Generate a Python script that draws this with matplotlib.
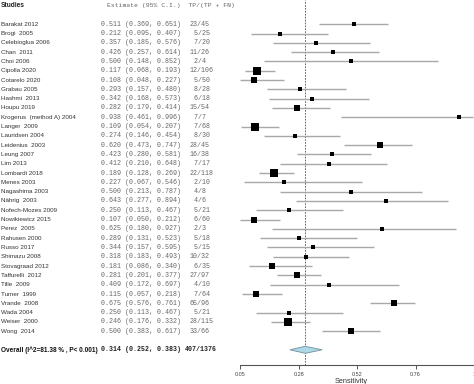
import matplotlib
matplotlib.use("Agg")
import matplotlib.pyplot as plt
from matplotlib.transforms import blended_transform_factory
from matplotlib.patches import Polygon

studies = ["Barakat 2012", "Brogi  2005", "Celebioglua 2006", "Chan  2011", "Choi 2006",
           "Cipolla 2020", "Cotarelo 2020", "Grabau 2005", "Hashmi  2013", "Houpu 2019",
           "Krogerus  (method A) 2004", "Langer  2009", "Lauridsen 2004", "Leidenius  2003",
           "Leung 2007", "Lim 2013", "Lombardi 2018", "Menes 2003", "Nagashima 2003",
           "Nährig  2003", "Nofech-Mozes 2009", "Nowikiewicz 2015", "Perez  2005",
           "Rahusen 2000", "Russo 2017", "Shimazu 2008", "Stovagraad 2012", "Taffurelli  2012",
           "Tille  2009", "Turner  1999", "Vrande  2008", "Wada 2004", "Weiser  2000", "Wong  2014"]
est = [0.511, 0.212, 0.357, 0.426, 0.500, 0.117, 0.108, 0.293, 0.342, 0.282, 0.938, 0.109,
       0.274, 0.620, 0.423, 0.412, 0.189, 0.227, 0.500, 0.643, 0.250, 0.107, 0.625, 0.289,
       0.344, 0.318, 0.181, 0.281, 0.409, 0.115, 0.675, 0.250, 0.246, 0.500]
lo = [0.369, 0.095, 0.185, 0.257, 0.148, 0.068, 0.048, 0.157, 0.168, 0.179, 0.461, 0.054,
      0.146, 0.473, 0.280, 0.210, 0.128, 0.067, 0.213, 0.277, 0.113, 0.050, 0.180, 0.131,
      0.157, 0.183, 0.086, 0.201, 0.172, 0.057, 0.576, 0.113, 0.176, 0.383]
hi = [0.651, 0.407, 0.576, 0.614, 0.852, 0.193, 0.227, 0.480, 0.573, 0.414, 0.996, 0.207,
      0.454, 0.747, 0.581, 0.648, 0.269, 0.546, 0.787, 0.894, 0.467, 0.212, 0.927, 0.523,
      0.595, 0.493, 0.340, 0.377, 0.697, 0.218, 0.761, 0.467, 0.332, 0.617]
tp = [23, 5, 7, 11, 2, 12, 5, 8, 6, 15, 7, 7, 8, 28, 16, 7, 22, 2, 4, 4, 5, 6, 2, 5, 5, 10, 6,
      27, 4, 7, 65, 5, 28, 33]
positives = [45, 25, 20, 26, 4, 106, 50, 28, 18, 54, 7, 68, 30, 45, 38, 17, 118, 10, 8, 6, 21,
             60, 3, 18, 15, 32, 35, 97, 10, 64, 96, 21, 115, 66]
# relative study weights
weights = [25, 22, 18.5, 22, 11, 64, 45, 22, 18.5, 32, 13.5, 53, 22, 28, 25, 18.5, 53, 16,
           13.5, 11, 22, 45, 11, 18.5, 18.5, 25, 28, 45, 13.5, 45, 45, 18.5, 53, 32]

overall_label = "Overall (I^2=81.38 % , P< 0.001)"
overall_est, overall_lo, overall_hi = 0.314, 0.252, 0.383
overall_tp, overall_pos = 407, 1376

xticks = [0.05, 0.2875, 0.525, 0.7625, 1.0]
xticklabels = ["0.05", "0.28", "0.52", "0.76", "1"]

W, H = 474, 384
fig = plt.figure(figsize=(W / 100, H / 100), dpi=100)
x0_px, unit_px = 227.9, 246.4
row0_px, step_px = 24.3, 9.3
axis_px = 365
ax = fig.add_axes([x0_px / W, (H - axis_px) / H, (W - x0_px) / W, axis_px / H])
ax.set_xlim(0, (W - x0_px) / unit_px)
ax.set_ylim((axis_px - row0_px) / step_px, -row0_px / step_px)
for s in ["top", "right", "left"]:
    ax.spines[s].set_visible(False)
ax.spines["bottom"].set_bounds(0.05, 1.0)
ax.spines["bottom"].set_color("#555555")
ax.spines["bottom"].set_linewidth(0.8)
ax.set_yticks([])
ax.set_xticks(xticks)
ax.set_xticklabels(xticklabels, fontsize=4.0, color="#444444", family="Liberation Sans")
ax.tick_params(axis="x", length=3, width=0.7, color="#555555", pad=2)
ax.set_xlabel("Sensitivity", fontsize=5.3, family="Liberation Sans", labelpad=0.5, color="#333333")

n = len(studies)
rows = list(range(n))
overall_row = n + 1

ax.axvline(overall_est, color="red", linestyle=(0, (2, 1.5)), linewidth=0.6, zorder=1)

for i in rows:
    ax.plot([lo[i], hi[i]], [i, i], color="#a8a8a8", linewidth=1.0, zorder=2, clip_on=False,
            solid_capstyle="butt")
    ax.plot(est[i], i, marker="s", color="black", markersize=weights[i] ** 0.5 * 0.72,
            markeredgewidth=0, zorder=3, clip_on=False)

diamond = Polygon([[overall_lo, overall_row], [overall_est, overall_row - 0.38],
                   [overall_hi, overall_row], [overall_est, overall_row + 0.38]],
                  closed=True, facecolor="#add8e6", edgecolor="#7090a0", linewidth=0.6, zorder=3)
ax.add_patch(diamond)

tr = blended_transform_factory(fig.transFigure, ax.transData)
name_x, est_x, ratio_x = 1 / W, 100.7 / W, 189.5 / W
name_kw = dict(fontsize=4.5, family="Liberation Sans", color="#333333", va="center", ha="left")
mono_kw = dict(fontsize=4.8, family="Liberation Mono", color="#666666", va="center")

ax.text(name_x, -2, "Studies", transform=tr, fontsize=4.8, fontweight="bold",
        family="Liberation Sans", color="#222222", va="center", ha="left", clip_on=False)
ax.text(107 / W, -2, "Estimate (95% C.I.)  TP/(TP + FN)", transform=tr, ha="left",
        clip_on=False, fontsize=4.6, family="Liberation Mono", color="#666666", va="center")

for i in rows:
    ax.text(name_x, i, studies[i], transform=tr, clip_on=False, **name_kw)
    ax.text(est_x, i, f"{est[i]:.3f} ({lo[i]:.3f}, {hi[i]:.3f})", transform=tr, ha="left",
            clip_on=False, **mono_kw)
    ax.text(ratio_x, i, f"{tp[i]:>2d}/{positives[i]}", transform=tr, ha="left",
            clip_on=False, **mono_kw)

ax.text(name_x, overall_row, overall_label, transform=tr, fontsize=4.7, fontweight="bold",
        family="Liberation Sans", color="#111111", va="center", ha="left", clip_on=False)
ax.text(est_x, overall_row, f"{overall_est:.3f} ({overall_lo:.3f}, {overall_hi:.3f})",
        transform=tr, fontsize=4.8, fontweight="bold", family="Liberation Mono", color="#222222",
        va="center", ha="left", clip_on=False)
ax.text(185 / W, overall_row, f"{overall_tp}/{overall_pos}", transform=tr, fontsize=4.8,
        fontweight="bold", family="Liberation Mono", color="#222222", va="center", ha="left",
        clip_on=False)

fig.savefig("out.png", dpi=100)
